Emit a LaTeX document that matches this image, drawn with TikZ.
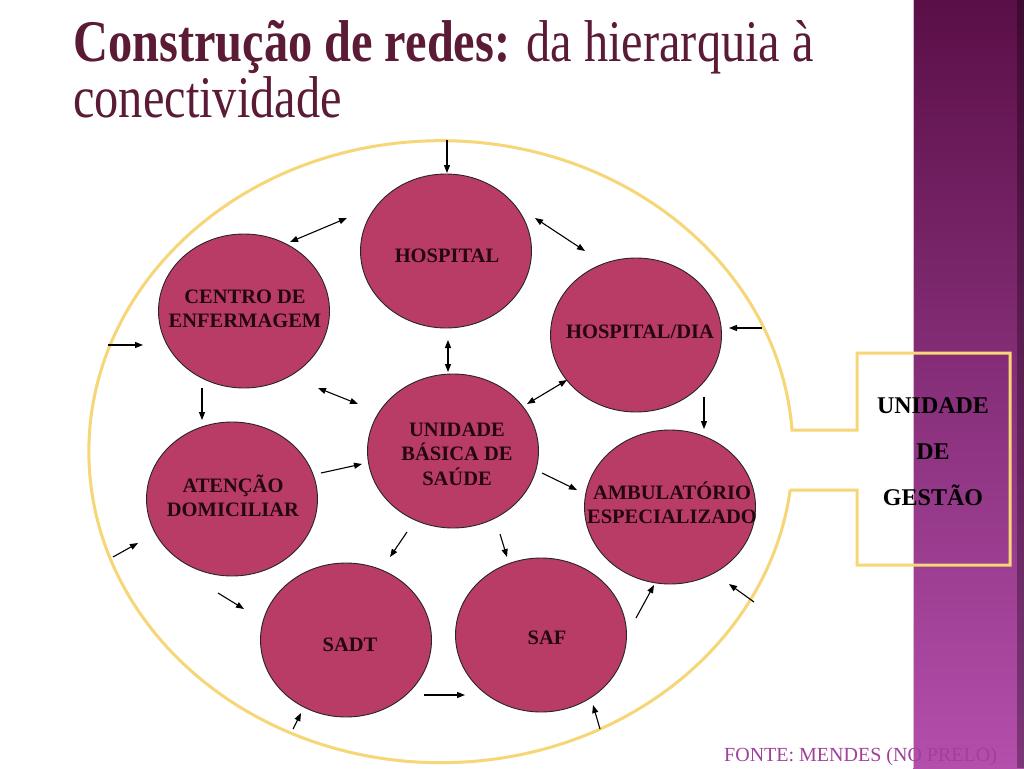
\documentclass[tikz,border=0pt]{standalone}
\usepackage{graphicx}
\usepackage{fontspec}
\setmainfont{Liberation Serif}
\usetikzlibrary{shapes.geometric,arrows.meta}
\definecolor{circfill}{HTML}{B83C65}
\definecolor{titlecol}{HTML}{5B1A36}
\definecolor{ylw}{HTML}{F6D676}
\definecolor{bandtop}{HTML}{5A0F47}
\definecolor{bandmid}{HTML}{7E2C72}
\definecolor{bandbot}{HTML}{B44FAC}
\definecolor{bandedge}{HTML}{DDB8D4}
\definecolor{fontecol}{HTML}{A0409A}
\definecolor{txtdark}{HTML}{24060F}
\begin{document}
\begin{tikzpicture}[x=1pt,y=-1pt,
  unit/.style={ellipse, draw=black!85, line width=0.9pt, fill=circfill,
    minimum width=171pt, minimum height=154pt, inner sep=0pt},
  circtext/.style={align=center, inner sep=0pt, text=txtdark,
    font=\fontsize{20.5}{24.5}\selectfont\bfseries},
  gtext/.style={align=center, inner sep=0pt, text=black,
    font=\fontsize{24}{46}\selectfont\bfseries},
  arr/.style={line width=1.1pt, -{Triangle[length=8pt,width=6pt]}},
  darr/.style={line width=1.1pt, {Triangle[length=8pt,width=6pt]}-{Triangle[length=8pt,width=6pt]}},
  yline/.style={draw=ylw, line width=3pt, line join=miter}
  ]
\useasboundingbox (0,0) rectangle (1024,768);
\fill[white] (0,0) rectangle (1024,768);
% purple band
\shade[top color=bandtop, middle color=bandmid, bottom color=bandbot] (913,0) rectangle (1024,768);
\fill[black, opacity=0.3] (1017,0) rectangle (1024,768);
\draw[bandedge, line width=1pt] (913.5,0) -- (913.5,768);

% title
\node[anchor=base west, inner sep=0pt, text=titlecol] (title1) at (73,62)
  {\scalebox{0.82}[1]{\fontsize{59}{59}\selectfont\bfseries Construção de redes: \mdseries da hierarquia à}};
\node[anchor=base west, inner sep=0pt, text=titlecol] (title2) at (73,117)
  {\scalebox{0.82}[1]{\fontsize{59}{59}\selectfont conectividade}};

% yellow ellipse with callout box
\path[yline] (790,490) -- (857,490) -- (857,565) -- (1010,565) -- (1010,353) -- (857,353) -- (857,430) -- (792,430)
  arc[start angle=-4, end angle=-353, x radius=352, y radius=311];

% units
\node[unit] (hosp) at (446,251) {};
\node[unit] (centro) at (244,311) {};
\node[unit] (hdia) at (636,335) {};
\node[unit] (ubs) at (453,451) {};
\node[unit] (atenc) at (232,499) {};
\node[unit] (ambul) at (670,507) {};
\node[unit] (sadt) at (346,640) {};
\node[unit] (saf) at (541,635) {};

\node[circtext] (hosp-t) at (447,256) {HOSPITAL};
\node[circtext] (centro-t) at (245,309) {CENTRO DE\\ENFERMAGEM};
\node[circtext] (hdia-t) at (640,332) {HOSPITAL/DIA};
\node[circtext] (ubs-t) at (457,454) {UNIDADE\\BÁSICA DE\\SAÚDE};
\node[circtext] (atenc-t) at (233,496) {ATENÇÃO\\DOMICILIAR};
\node[circtext] (ambul-t) at (672,503) {AMBULATÓRIO\\ESPECIALIZADO};
\node[circtext] (sadt-t) at (350,645) {SADT};
\node[circtext] (saf-t) at (547,638) {SAF};

\node[gtext] (gestao) at (933,452) {UNIDADE\\DE\\GESTÃO};

% arrow end points
\coordinate (t0) at (447,140);   \coordinate (t1) at (447,173);
\coordinate (a0) at (290,242);   \coordinate (a1) at (347,218);
\coordinate (b0) at (535,218);   \coordinate (b1) at (585,251);
\coordinate (c0) at (108,345);   \coordinate (c1) at (143,345);
\coordinate (d0) at (762,328);   \coordinate (d1) at (729,328);
\coordinate (e0) at (448,340);   \coordinate (e1) at (448,372);
\coordinate (f0) at (318,388);   \coordinate (f1) at (358,404);
\coordinate (g0) at (527,404);   \coordinate (g1) at (567,380);
\coordinate (h0) at (202,388);   \coordinate (h1) at (202,420);
\coordinate (i0) at (704,397);   \coordinate (i1) at (704,429);
\coordinate (j0) at (321,473);   \coordinate (j1) at (362,464);
\coordinate (k0) at (542,473);   \coordinate (k1) at (577,490);
\coordinate (l0) at (407,532);   \coordinate (l1) at (390,557);
\coordinate (m0) at (500,534);   \coordinate (m1) at (507,557);
\coordinate (n0) at (113,557);   \coordinate (n1) at (138,543);
\coordinate (o0) at (218,593);   \coordinate (o1) at (244,609);
\coordinate (p0) at (424,695);   \coordinate (p1) at (465,695);
\coordinate (q0) at (293,729);   \coordinate (q1) at (301,713);
\coordinate (r0) at (600,729);   \coordinate (r1) at (593,705);
\coordinate (s0) at (636,618);   \coordinate (s1) at (654,585);
\coordinate (u0) at (754,602);   \coordinate (u1) at (729,584);

\draw[arr] (t0) -- (t1);
\draw[darr] (a0) -- (a1);
\draw[darr] (b0) -- (b1);
\draw[arr] (c0) -- (c1);
\draw[arr] (d0) -- (d1);
\draw[darr] (e0) -- (e1);
\draw[darr] (f0) -- (f1);
\draw[darr] (g0) -- (g1);
\draw[arr] (h0) -- (h1);
\draw[arr] (i0) -- (i1);
\draw[arr] (j0) -- (j1);
\draw[arr] (k0) -- (k1);
\draw[arr] (l0) -- (l1);
\draw[arr] (m0) -- (m1);
\draw[arr] (n0) -- (n1);
\draw[arr] (o0) -- (o1);
\draw[arr] (p0) -- (p1);
\draw[arr] (q0) -- (q1);
\draw[arr] (r0) -- (r1);
\draw[arr] (s0) -- (s1);
\draw[arr] (u0) -- (u1);

% source
\node[anchor=base west, inner sep=0pt, text=fontecol, font=\fontsize{20}{20}\selectfont] (fonte) at (724,761) {FONTE: MENDES (NO PRELO)};
\end{tikzpicture}
\end{document}
